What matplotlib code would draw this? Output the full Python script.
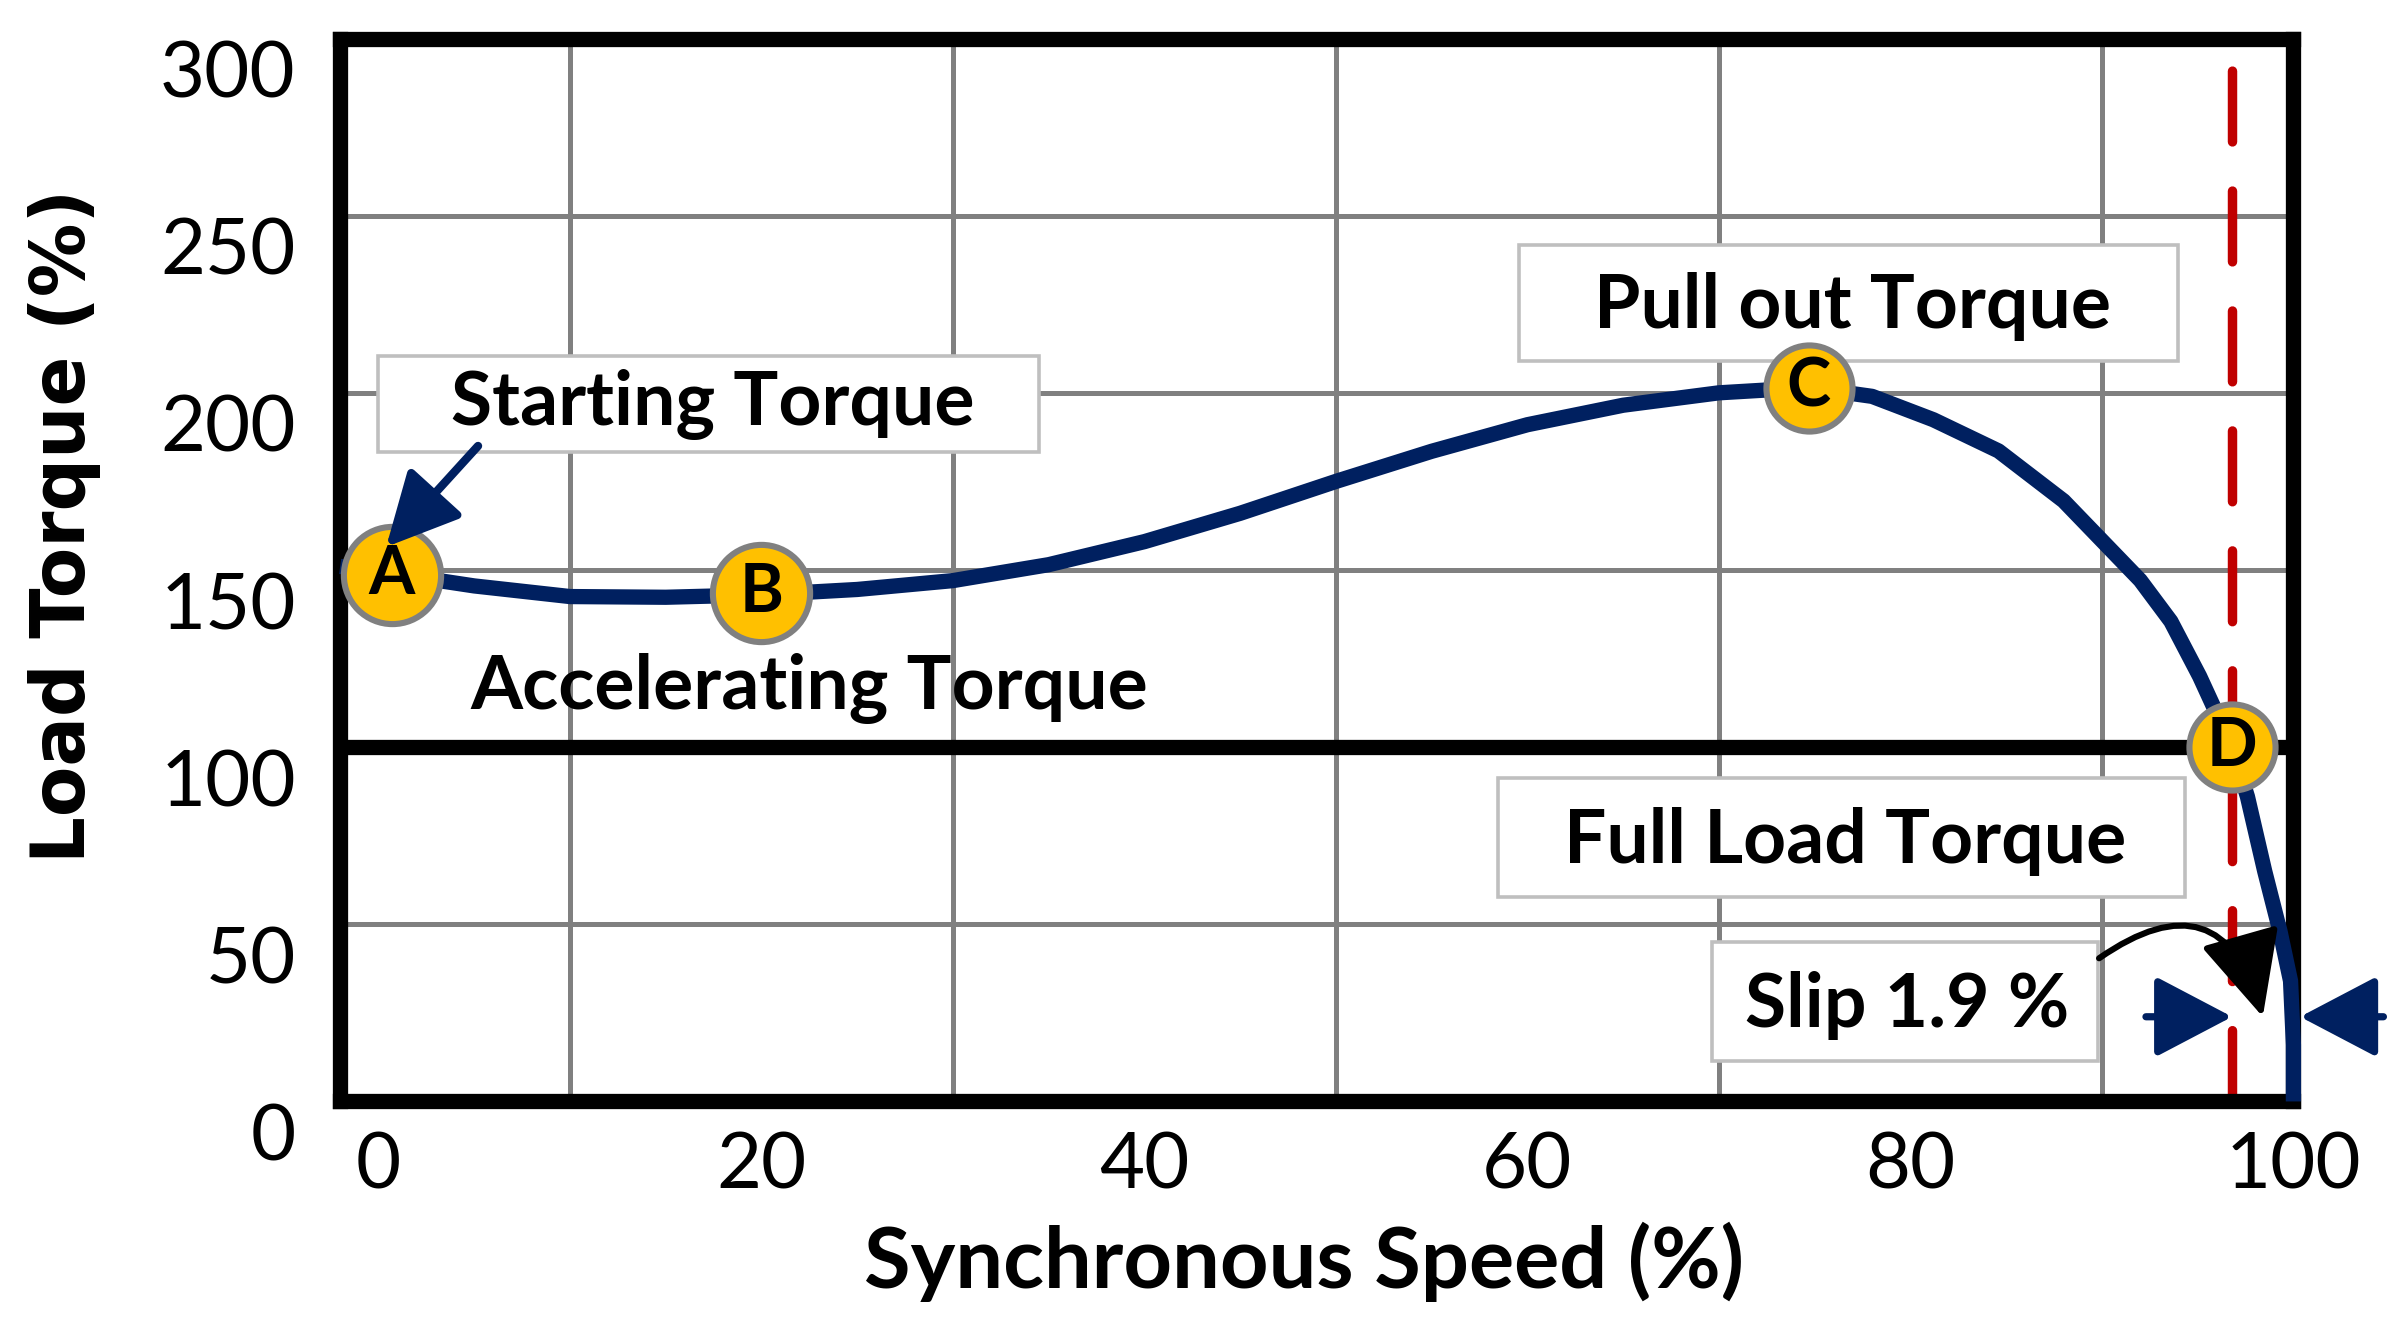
import matplotlib
matplotlib.use("Agg")
import matplotlib.pyplot as plt
import matplotlib.transforms as mtransforms
from matplotlib.patches import Rectangle, FancyArrowPatch

# torque-speed curve
speed = [-2.0, 0.7, 5, 10, 15, 20, 25, 30, 35, 40, 45, 50, 55, 60, 65, 70, 74.7,
         78, 81.2, 84.6, 88, 90, 92, 93.6, 95.1, 96.8, 97.6, 98.5, 99.3, 99.85,
         100.0, 100.0]
torque = [151, 149, 145.5, 142.5, 142.3, 143, 144.5, 147, 151.5, 158, 166, 175,
          183.5, 191, 196.5, 200, 201.5, 199, 192.4, 183.6, 169.5, 158.3, 147.1,
          135.5, 120, 100, 86, 65, 48, 34, 16, 0]

point_names = ["A", "B", "C", "D"]
point_speed = [0.7, 20, 74.7, 96.8]
point_torque = [148.5, 143.5, 201.5, 100]

full_load = 100
rated_speed = 96.8

x_ticks = [0, 20, 40, 60, 80, 100]
x_grid = [10, 20, 30, 40, 50, 60, 70, 80, 90]
y_ticks = [0, 50, 100, 150, 200, 250, 300]

navy = "#002060"
gold = "#FFC000"
red = "#C00000"
grey = "#808080"
font = ["Lato", "DejaVu Sans"]

fig = plt.figure(figsize=(12.02, 6.64), dpi=200)
ax = fig.add_axes([0.1415, 0.1706, 0.954 - 0.1415, 0.971 - 0.1706])
ax.set_xlim(-2, 100)
ax.set_ylim(0, 300)

ax.set_xticks(x_ticks)
ax.set_xticks(x_grid, minor=True)
ax.set_yticks(y_ticks)
ax.tick_params(which="both", length=0)
ax.tick_params(axis="x", pad=11, labelsize=28)
ax.tick_params(axis="y", pad=16, labelsize=28)
ax.grid(which="minor", axis="x", color=grey, lw=1.8)
ax.grid(which="major", axis="y", color=grey, lw=1.8)
ax.set_axisbelow(True)
for s in ax.spines.values():
    s.set_linewidth(5.5)

# y labels sit a bit below their gridlines in the original
off = mtransforms.ScaledTranslation(0, -11 / 72, fig.dpi_scale_trans)
for lab in ax.get_yticklabels():
    lab.set_family(font)
    lab.set_transform(lab.get_transform() + off)
for lab in ax.get_xticklabels():
    lab.set_family(font)

ax.axhline(full_load, color="black", lw=5.5, zorder=2)
ax.axvline(rated_speed, color=red, lw=3.4, dashes=(7.5, 5.2), dash_capstyle="round", zorder=2.2)

ax.plot(speed, torque, color=navy, lw=5.5, solid_joinstyle="round", solid_capstyle="butt",
        clip_on=False, zorder=3)

sizes = [35, 35, 31, 31]
for name, xs, ys, ms in zip(point_names, point_speed, point_torque, sizes):
    ax.plot(xs, ys, "o", ms=ms, mfc=gold, mec=grey, mew=2.2, zorder=7, clip_on=False)
    ax.text(xs, ys, name, ha="center", va="center", fontsize=24, fontweight="bold",
            family=font, zorder=8)

# text boxes (axes fractions)
boxes = [
    ((0.0196, 0.6107, 0.3578, 0.7015), (0.1907, 0.6553), "Starting Torque"),
    ((0.6034, 0.6968, 0.9408, 0.8059), (0.7744, 0.7477), "Pull out Torque"),
    ((0.5928, 0.1925, 0.9446, 0.3043), (0.7706, 0.2444), "Full Load Torque"),
    ((0.7021, 0.0382, 0.8998, 0.1497), (0.8020, 0.0901), "Slip 1.9 %"),
]
for (x0, y0, x1, y1), (cx, cy), txt in boxes:
    ax.add_patch(Rectangle((x0, y0), x1 - x0, y1 - y0, transform=ax.transAxes,
                           fc="white", ec="#BFBFBF", lw=1.3, zorder=4))
    ax.text(cx, cy, txt, transform=ax.transAxes, ha="center", va="center",
            fontsize=27, fontweight="bold", family=font, zorder=5)

ax.text(0.2404, 0.3886, "Accelerating Torque", transform=ax.transAxes, ha="center",
        va="center", fontsize=27, fontweight="bold", family=font, zorder=5)

# arrows
ax.add_patch(FancyArrowPatch((5.2, 185), (0.4, 156.5), arrowstyle="-|>,head_length=0.8,head_width=0.4",
                             mutation_scale=28, color=navy, lw=3, shrinkA=0, shrinkB=0, zorder=9))
ax.add_patch(FancyArrowPatch((92.3, 23.9), (96.8, 23.9), arrowstyle="-|>,head_length=0.8,head_width=0.42",
                             mutation_scale=30, color=navy, lw=2.6, shrinkA=0, shrinkB=0,
                             capstyle="round", clip_on=False, zorder=9))
ax.add_patch(FancyArrowPatch((104.7, 23.9), (100.35, 23.9), arrowstyle="-|>,head_length=0.8,head_width=0.42",
                             mutation_scale=30, color=navy, lw=2.6, shrinkA=0, shrinkB=0,
                             capstyle="round", clip_on=False, zorder=9))
ax.add_patch(FancyArrowPatch((89.85, 40.4), (98.4, 23.9), connectionstyle="arc3,rad=-0.7",
                             arrowstyle="-|>,head_length=0.95,head_width=0.45", mutation_scale=28,
                             color="black", lw=2.2, shrinkA=0, shrinkB=0, clip_on=False, zorder=9))

fig.text(0.027, 0.604, "Load Torque (%)", rotation=90, ha="center", va="center",
         fontsize=26.5, fontweight="bold", family="DejaVu Sans")
fig.text(0.5424, 0.05, "Synchronous Speed (%)", ha="center", va="center",
         fontsize=30.5, fontweight="bold", family=font)

fig.savefig("out.png", dpi=200)
